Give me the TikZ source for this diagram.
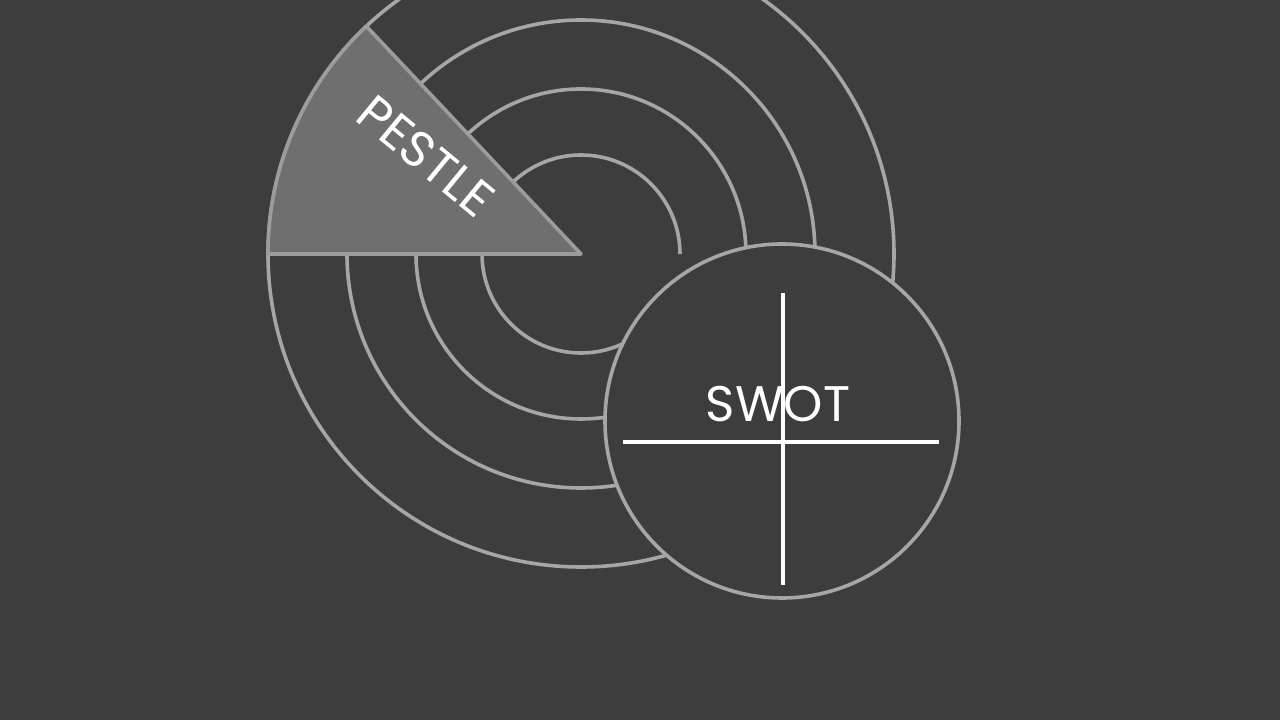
\documentclass[tikz,border=0pt]{standalone}
\usepackage{fontspec}
\newfontfamily\geo{Poppins}
\definecolor{bgc}{HTML}{3D3D3D}
\definecolor{ringc}{HTML}{A6A6A6}
\definecolor{wedgec}{HTML}{6F6F6F}
\definecolor{wedgeline}{HTML}{9C9C9C}
\tikzset{
  ring/.style={draw=ringc, line width=3.6pt},
  crossline/.style={draw=white, line width=3.3pt},
  label/.style={text=white, font=\geo, inner sep=0pt}
}
\begin{document}
\begin{tikzpicture}[x=1pt,y=1pt]
\useasboundingbox (0,0) rectangle (1280,720);
\clip (0,0) rectangle (1280,720);
\fill[bgc] (0,0) rectangle (1280,720);
\coordinate (C) at (581,466);
% concentric rings
\draw[ring] (C) circle[radius=313];
\draw[ring] (C) circle[radius=234];
\draw[ring] (C) circle[radius=165];
\draw[ring] (C) ++(0:99) arc[start angle=0,end angle=300,radius=99];
% PESTLE wedge
\filldraw[fill=wedgec, draw=wedgeline, line width=3.6pt, line join=round]
  (C) -- ++(133.3:313) arc[start angle=133.3,end angle=180,radius=313] -- cycle;
\node[label, rotate=-39.5, font=\geo\fontsize{50}{50}\selectfont] (pestle) at (426,564) {PESTLE};
% SWOT circle
\node[circle, draw=ringc, fill=bgc, line width=3.6pt, minimum size=354pt, inner sep=0pt] (swot) at (782,299) {};
\coordinate (vtop) at (783,427);
\coordinate (vbot) at (783,135);
\coordinate (hl) at (623,278);
\coordinate (hr) at (939,278);
\draw[crossline] (vtop) -- (vbot);
\draw[crossline] (hl) -- (hr);
\node[label, font=\geo\fontsize{50}{50}\selectfont] (swottext) at (778,316) {SWOT};
\end{tikzpicture}
\end{document}
